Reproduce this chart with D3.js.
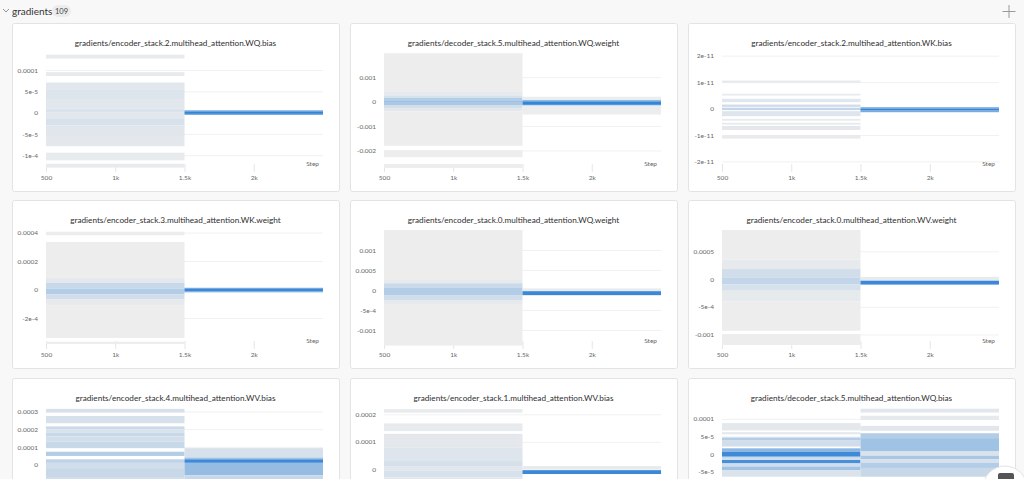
<!DOCTYPE html>
<html>
<head>
<meta charset="utf-8">
<script src="https://cdn.jsdelivr.net/npm/d3@7"></script>
<style>
  html, body { margin: 0; padding: 0; background: #f8f8f8; overflow: hidden; }
  svg { display: block; font-family: Lato, "Noto Sans", sans-serif; }
</style>
</head>
<body>
<script>
// Panel titles, in reading order (3 x 3 grid)
var titles = [
  "gradients/encoder_stack.2.multihead_attention.WQ.bias",
  "gradients/decoder_stack.5.multihead_attention.WQ.weight",
  "gradients/encoder_stack.2.multihead_attention.WK.bias",
  "gradients/encoder_stack.3.multihead_attention.WK.weight",
  "gradients/encoder_stack.0.multihead_attention.WQ.weight",
  "gradients/encoder_stack.0.multihead_attention.WV.weight",
  "gradients/encoder_stack.4.multihead_attention.WV.bias",
  "gradients/encoder_stack.1.multihead_attention.WV.bias",
  "gradients/decoder_stack.5.multihead_attention.WQ.bias"
];

// Step axis
var stepEdges = [500, 1500, 2500];          // two histogram columns
var stepTicks = [500, 1000, 1500, 2000];
var stepTickLabels = ["500", "1k", "1.5k", "2k"];

// Value axis per panel
var yDomains = [
  [-1.3e-4, 1.4e-4],
  [-0.00272, 0.00199],
  [-2.25e-11, 2.1e-11],
  [-0.00039, 0.000418],
  [-0.001375, 0.0015],
  [-0.00119, 0.000885],
  [-3.3e-4, 3.2e-4],
  [-1.95e-4, 2.23e-4],
  [-1.97e-4, 1.31e-4]
];
var yTickValues = [
  [1e-4, 5e-5, 0, -5e-5, -1e-4],
  [0.001, 0, -0.001, -0.002],
  [2e-11, 1e-11, 0, -1e-11, -2e-11],
  [0.0004, 0.0002, 0, -0.0002],
  [0.001, 0.0005, 0, -0.0005, -0.001],
  [0.0005, 0, -0.0005, -0.001],
  [3e-4, 2e-4, 1e-4, 0, -1e-4, -2e-4, -3e-4],
  [2e-4, 1e-4, 0, -1e-4],
  [1e-4, 5e-5, 0, -5e-5, -1e-4, -1.5e-4]
];
var yTickLabels = [
  ["0.0001", "5e-5", "0", "-5e-5", "-1e-4"],
  ["0.001", "0", "-0.001", "-0.002"],
  ["2e-11", "1e-11", "0", "-1e-11", "-2e-11"],
  ["0.0004", "0.0002", "0", "-2e-4"],
  ["0.001", "0.0005", "0", "-5e-4", "-0.001"],
  ["0.0005", "0", "-5e-4", "-0.001"],
  ["0.0003", "0.0002", "0.0001", "0", "-1e-4", "-2e-4", "-3e-4"],
  ["0.0002", "0.0001", "0", "-1e-4"],
  ["0.0001", "5e-5", "0", "-5e-5", "-1e-4", "-1.5e-4"]
];

// Histogram bins for steps 500-1500: [low, high, density 0..1]
var binsEarly = [
  [[1.27e-4, 1.36e-4, 0.03], [0.86e-4, 0.95e-4, 0.03], [5.5e-5, 7.07e-5, 0.06], [3.0e-5, 5.5e-5, 0.09],
   [1.0e-5, 3.0e-5, 0.06], [0, 1.0e-5, 0.1], [-1.5e-5, 0, 0.06], [-3.0e-5, -1.5e-5, 0.12],
   [-5.5e-5, -3.0e-5, 0.07], [-7.9e-5, -5.5e-5, 0.05], [-11.2e-5, -9.4e-5, 0.03], [-12.9e-5, -12.0e-5, 0.03]],
  [[0.0004, 0.00198, 0.005], [0.00025, 0.0004, 0.04], [0.00015, 0.00025, 0.12], [0.00005, 0.00015, 0.3],
   [-0.00005, 0.00005, 0.42], [-0.00016, -0.00005, 0.35], [-0.00026, -0.00016, 0.15], [-0.0004, -0.00026, 0.05],
   [-0.00181, -0.0004, 0.005], [-0.00228, -0.00199, 0.005], [-0.00272, -0.00256, 0.005]],
  [[0.97e-11, 1.06e-11, 0.03], [0.49e-11, 0.56e-11, 0.03], [0.24e-11, 0.37e-11, 0.06], [0.06e-11, 0.15e-11, 0.15],
   [-0.06e-11, 0.03e-11, 0.22], [-0.29e-11, -0.1e-11, 0.08], [-0.46e-11, -0.39e-11, 0.04], [-0.61e-11, -0.54e-11, 0.04],
   [-0.81e-11, -0.66e-11, 0.05], [-1.14e-11, -1.0e-11, 0.03]],
  [[0.000381, 0.000406, 0.005], [0.00008, 0.000334, 0.005], [0.000047, 0.00008, 0.05], [0.000005, 0.000047, 0.2],
   [-0.000035, 0.000005, 0.3], [-0.00007, -0.000035, 0.15], [-0.00011, -0.00007, 0.04], [-0.000341, -0.00011, 0.005],
   [-0.000383, -0.000367, 0.005]],
  [[0.00025, 0.0015, 0.005], [0.00017, 0.00025, 0.04], [0.00005, 0.00017, 0.18], [-0.00014, 0.00005, 0.3],
   [-0.00025, -0.00014, 0.15], [-0.00035, -0.00025, 0.04], [-0.00139, -0.00035, 0.005]],
  [[0.00035, 0.000885, 0.005], [0.00018, 0.00035, 0.04], [0.00003, 0.00018, 0.15], [-0.0001, 0.00003, 0.22],
   [-0.00021, -0.0001, 0.12], [-0.0004, -0.00021, 0.04], [-0.000933, -0.0004, 0.005], [-0.00119, -0.000993, 0.005]],
  [[0.000295, 0.000315, 0.12], [0.000234, 0.000275, 0.12], [0.0002, 0.000216, 0.18], [0.00018, 0.0002, 0.1],
   [0.00016, 0.00018, 0.2], [0.00013, 0.00016, 0.14], [0.000093, 0.00013, 0.2], [0.000049, 0.000073, 0.3],
   [0.00001, 0.00003, 0.25], [-0.00002, 0.00001, 0.15], [-0.00007, -0.00002, 0.2], [-0.0002, -0.00007, 0.15]],
  [[0.000206, 0.000219, 0.03], [0.000139, 0.000167, 0.03], [0.00008, 0.000129, 0.05], [0.00003, 0.00008, 0.08],
   [0.00001, 0.00003, 0.13], [-0.000005, 0.00001, 0.06], [-0.00003, -0.000005, 0.12], [-0.00012, -0.00003, 0.06]],
  [[6.7e-5, 8.8e-5, 0.05], [5.6e-5, 6.2e-5, 0.05], [3.8e-5, 4.7e-5, 0.3], [2.1e-5, 3.8e-5, 0.15],
   [0.6e-5, 1.6e-5, 0.5], [-0.8e-5, 0.6e-5, 0.9], [-1.4e-5, -0.8e-5, 0.2], [-1.7e-5, -1.4e-5, 0.08],
   [-2.7e-5, -1.7e-5, 0.85], [-3.6e-5, -2.7e-5, 0.15], [-4.6e-5, -3.6e-5, 0.4], [-6.5e-5, -4.6e-5, 0.1]]
];

// Histogram bins for steps 1500-2500
var binsLate = [
  [[0.3e-5, 0.55e-5, 0.6], [-0.3e-5, 0.3e-5, 0.95], [-0.55e-5, -0.3e-5, 0.6]],
  [[0.00005, 0.0002, 0.01], [0, 0.00005, 0.8], [-0.0001, 0, 0.95], [-0.00016, -0.0001, 0.8], [-0.00053, -0.00016, 0.01]],
  [[0, 0.05e-11, 0.6], [-0.08e-11, 0, 0.95], [-0.14e-11, -0.08e-11, 0.6]],
  [[0.000005, 0.000012, 0.7], [-0.000014, 0.000005, 0.92], [-0.000019, -0.000014, 0.7]],
  [[-0.00003, 0.00004, 0.03], [-0.00013, -0.00003, 0.92], [-0.00014, -0.00013, 0.03]],
  [[-0.00003, 0.00004, 0.03], [-0.0001, -0.00003, 0.92]],
  [[0.00004, 0.000093, 0.12], [0.00003, 0.00004, 0.4], [0.00001, 0.00003, 0.9], [-0.00006, 0.00001, 0.45], [-0.0001, -0.00006, 0.2]],
  [[0, 0.000012, 0.03], [-0.000017, -0.000003, 0.92]],
  [[11.8e-5, 12.9e-5, 0.06], [9.7e-5, 10.9e-5, 0.04], [6.6e-5, 8e-5, 0.06], [4.5e-5, 5.9e-5, 0.3],
   [0.7e-5, 4.5e-5, 0.4], [-0.5e-5, 0.7e-5, 0.1], [-1.5e-5, -0.5e-5, 0.35], [-2.5e-5, -1.5e-5, 0.12],
   [-4e-5, -2.5e-5, 0.3], [-6.5e-5, -4e-5, 0.2]]
];

var W = 1024, H = 479;

// Card grid
var cardX = [12, 350, 688], cardY = [23, 200, 378],
  cardW = 327, cardH = 168;
// Plot area inside a card
var m = { left: 34, right: 16, top: 30, bottom: 22 };

var density = d3.scaleLinear().domain([0, 1])
  .range(["#eeeeee", "#2a7fd5"]).interpolate(d3.interpolateRgb);

var svg = d3.select("body").append("svg")
  .attr("width", W)
  .attr("height", H);

svg.append("rect").attr("width", W).attr("height", H).attr("fill", "#f8f8f8");

// Section header
var head = svg.append("g");
head.append("path")
  .attr("d", "M3,9 L6,12 L9,9")
  .attr("fill", "none").attr("stroke", "#888").attr("stroke-width", 0.9);
head.append("text").attr("x", 12).attr("y", 14.5)
  .attr("font-size", 10).attr("fill", "#333").text("gradients");
head.append("rect").attr("x", 52).attr("y", 5).attr("width", 19).attr("height", 12)
  .attr("rx", 6).attr("fill", "#ececec");
head.append("text").attr("x", 61.5).attr("y", 14).attr("text-anchor", "middle")
  .attr("font-size", 7.5).attr("fill", "#444").text("109");
head.append("path")
  .attr("d", "M1009,5 V18 M1002.5,11.5 H1015.5")
  .attr("stroke", "#9a9a9a").attr("stroke-width", 1);

titles.forEach(function(title, i) {
  var cx = cardX[i % 3], cy = cardY[Math.floor(i / 3)];
  var g = svg.append("g").attr("transform", "translate(" + cx + "," + cy + ")");

  g.append("rect")
    .attr("x", 0.5).attr("y", 0.5)
    .attr("width", cardW).attr("height", cardH)
    .attr("rx", 2).attr("fill", "#fff").attr("stroke", "#e3e3e3");

  var x = d3.scaleLinear().domain([stepEdges[0], stepEdges[2]])
    .range([m.left, cardW - m.right]);
  var y = d3.scaleLinear().domain(yDomains[i])
    .range([cardH - m.bottom - 1, m.top]);

  g.append("text")
    .attr("x", cardW / 2).attr("y", 23)
    .attr("text-anchor", "middle")
    .attr("font-size", 8.2).attr("fill", "#2e2e2e")
    .text(title);

  // Horizontal grid + value labels
  var yAxis = d3.axisLeft(y)
    .tickValues(yTickValues[i])
    .tickFormat(function(d, k) { return yTickLabels[i][k]; })
    .tickSize(-(x.range()[1] - x.range()[0]))
    .tickPadding(8);
  var ya = g.append("g").attr("transform", "translate(" + m.left + ",0)").call(yAxis);
  ya.select(".domain").remove();
  ya.selectAll("line").attr("stroke", "#f1f1f1");
  ya.selectAll("text").attr("font-size", 6.5).attr("fill", "#666")
    .attr("font-family", "Lato, sans-serif");

  // Step ticks
  var xAxis = d3.axisBottom(x)
    .tickValues(stepTicks)
    .tickFormat(function(d, k) { return stepTickLabels[k]; })
    .tickSize(8).tickPadding(3);
  var xa = g.append("g").attr("transform", "translate(0," + (cardH - m.bottom - 5) + ")").call(xAxis);
  xa.select(".domain").remove();
  xa.selectAll("line").attr("stroke", "#e6e6e6");
  xa.selectAll("text").attr("font-size", 6.5).attr("fill", "#666")
    .attr("font-family", "Lato, sans-serif");

  g.append("text")
    .attr("x", cardW - m.right - 4).attr("y", cardH - m.bottom - 3)
    .attr("text-anchor", "end")
    .attr("font-size", 6.5).attr("fill", "#666")
    .text("Step");

  // Histogram columns
  var clipId = "clip" + i;
  g.append("clipPath").attr("id", clipId)
    .append("rect").attr("x", 0).attr("y", 0).attr("width", cardW).attr("height", cardH);

  var cols = [binsEarly[i], binsLate[i]];
  cols.forEach(function(bins, c) {
    g.append("g").attr("clip-path", "url(#" + clipId + ")")
      .selectAll("rect")
      .data(bins)
      .join("rect")
      .attr("x", x(stepEdges[c]))
      .attr("width", x(stepEdges[c + 1]) - x(stepEdges[c]))
      .attr("y", function(d) { return y(d[1]); })
      .attr("height", function(d) { return Math.max(0.8, y(d[0]) - y(d[1])); })
      .attr("fill", function(d) { return density(d[2]); });
  });
});

// The last row runs past the window; drop labels that fall below it
svg.selectAll("text").each(function() {
  if (this.getBoundingClientRect().bottom > H) d3.select(this).remove();
});

// Floating help button in the corner
svg.append("circle").attr("cx", 1005).attr("cy", 488).attr("r", 22)
  .attr("fill", "#fff").attr("stroke", "#e2e2e2");
svg.append("rect").attr("x", 998).attr("y", 473).attr("width", 16).attr("height", 12)
  .attr("rx", 2).attr("fill", "#555");
</script>
</body>
</html>
